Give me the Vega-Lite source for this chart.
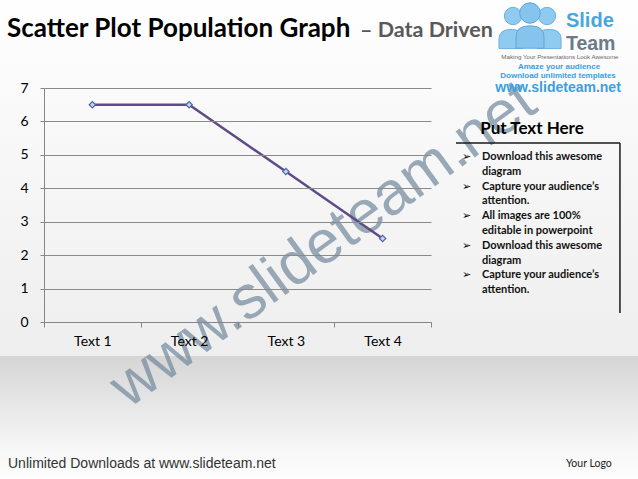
{
  "$schema": "https://vega.github.io/schema/vega-lite/v6.json",
  "autosize": {"type": "none"},
  "padding": {"left": 44, "top": 88, "right": 207, "bottom": 157},
  "width": 387,
  "height": 234,
  "background": "#ffffff",
  "config": {"view": {"stroke": null}},
  "resolve": {"scale": {"x": "independent", "y": "independent"}},
  "layer": [
    {
      "data": {"values": [{"part": "slide"}]},
      "mark": {"type": "rect", "fill": {"gradient": "linear", "x1": 0, "y1": 0, "x2": 0, "y2": 1, "stops": [{"offset": 0, "color": "#ffffff"}, {"offset": 1, "color": "#eeeeee"}]}},
      "encoding": {
        "x": {"datum": -0.6, "type": "quantitative", "scale": {"domain": [0, 4], "nice": false, "zero": false}, "axis": null},
        "x2": {"datum": 6.4},
        "y": {"datum": 9.9, "type": "quantitative", "scale": {"domain": [0, 7], "nice": false, "zero": false}, "axis": null},
        "y2": {"datum": -1.017}
      }
    },
    {
      "data": {"values": [{"part": "footer"}]},
      "mark": {"type": "rect", "fill": {"gradient": "linear", "x1": 0, "y1": 0, "x2": 0, "y2": 1, "stops": [{"offset": 0, "color": "#d5d5d5"}, {"offset": 0.7, "color": "#f6f6f6"}, {"offset": 1, "color": "#ffffff"}]}},
      "encoding": {
        "x": {"datum": -0.6, "type": "quantitative", "scale": {"domain": [0, 4], "nice": false, "zero": false}, "axis": null},
        "x2": {"datum": 6.4},
        "y": {"datum": -1.017, "type": "quantitative", "scale": {"domain": [0, 7], "nice": false, "zero": false}, "axis": null},
        "y2": {"datum": -4.9}
      }
    },
    {
      "data": {"values": [{"t": "www.slideteam.net"}]},
      "mark": {"type": "text", "align": "center", "baseline": "alphabetic", "font": "Liberation Sans", "fontSize": 61, "angle": -36, "fill": "#71889d", "opacity": 0.7},
      "encoding": {
        "x": {"datum": 3.0, "type": "quantitative", "scale": {"domain": [0, 4], "nice": false, "zero": false}, "axis": null},
        "y": {"datum": 1.87, "type": "quantitative", "scale": {"domain": [0, 7], "nice": false, "zero": false}, "axis": null},
        "text": {"field": "t"}
      }
    },
    {
      "data": {"values": [
        {"category": "Text 1", "value": 6.5},
        {"category": "Text 2", "value": 6.5},
        {"category": "Text 3", "value": 4.5},
        {"category": "Text 4", "value": 2.5}
      ]},
      "encoding": {
        "x": {"field": "category", "type": "nominal", "bandPosition": 0.5, "scale": {"type": "band", "paddingInner": 0, "paddingOuter": 0},
          "axis": {"title": null, "labelAngle": 0, "labelFont": "Lato", "labelFontSize": 14, "labelColor": "#000000", "labelPadding": 7, "tickBand": "extent", "tickSize": 5, "tickColor": "#868686", "domainColor": "#868686", "grid": false, "zindex": 1}},
        "y": {"field": "value", "type": "quantitative", "scale": {"domain": [0, 7], "nice": false, "zero": true},
          "axis": {"title": null, "values": [0, 1, 2, 3, 4, 5, 6, 7], "labelFont": "Lato", "labelFontSize": 14, "labelColor": "#000000", "labelPadding": 12, "tickSize": 4, "tickColor": "#868686", "domainColor": "#868686", "grid": true, "gridColor": "#8a8a8a", "zindex": 1}}
      },
      "layer": [
        {"mark": {"type": "line", "color": "#5e4b85", "strokeWidth": 2.5}},
        {"mark": {"type": "point", "shape": "diamond", "filled": true, "fill": "#c9d3ec", "stroke": "#4a68a8", "strokeWidth": 1.2, "size": 40, "opacity": 1}}
      ]
    },
    {
      "data": {"values": [{"t": "Put Text Here"}]},
      "mark": {"type": "text", "align": "center", "baseline": "alphabetic", "font": "Lato", "fontWeight": "bold", "fontSize": 17, "fill": "#000000"},
      "encoding": {
        "x": {"datum": 5.044, "type": "quantitative", "scale": {"domain": [0, 4], "nice": false, "zero": false}, "axis": null},
        "y": {"datum": 5.624, "type": "quantitative", "scale": {"domain": [0, 7], "nice": false, "zero": false}, "axis": null},
        "text": {"field": "t"}
      }
    },
    {
      "data": {"values": [{"part": "hline"}]},
      "mark": {"type": "rule", "color": "#1a1a1a", "strokeWidth": 1.5},
      "encoding": {
        "x": {"datum": 4.258, "type": "quantitative", "scale": {"domain": [0, 4], "nice": false, "zero": false}, "axis": null},
        "x2": {"datum": 5.953},
        "y": {"datum": 5.354, "type": "quantitative", "scale": {"domain": [0, 7], "nice": false, "zero": false}, "axis": null}
      }
    },
    {
      "data": {"values": [{"part": "vline"}]},
      "mark": {"type": "rule", "color": "#1a1a1a", "strokeWidth": 1.5},
      "encoding": {
        "x": {"datum": 5.953, "type": "quantitative", "scale": {"domain": [0, 4], "nice": false, "zero": false}, "axis": null},
        "y": {"datum": 5.354, "type": "quantitative", "scale": {"domain": [0, 7], "nice": false, "zero": false}, "axis": null},
        "y2": {"datum": 0.269}
      }
    },
    {
      "data": {"values": [{"t": "➢"}]},
      "mark": {"type": "text", "align": "left", "baseline": "alphabetic", "font": "DejaVu Sans", "fontSize": 11, "fill": "#000000"},
      "encoding": {
        "x": {"datum": 4.321, "type": "quantitative", "scale": {"domain": [0, 4], "nice": false, "zero": false}, "axis": null},
        "y": {"datum": 4.846, "type": "quantitative", "scale": {"domain": [0, 7], "nice": false, "zero": false}, "axis": null},
        "text": {"field": "t"}
      }
    },
    {
      "data": {"values": [{"t": "➢"}]},
      "mark": {"type": "text", "align": "left", "baseline": "alphabetic", "font": "DejaVu Sans", "fontSize": 11, "fill": "#000000"},
      "encoding": {
        "x": {"datum": 4.321, "type": "quantitative", "scale": {"domain": [0, 4], "nice": false, "zero": false}, "axis": null},
        "y": {"datum": 3.961, "type": "quantitative", "scale": {"domain": [0, 7], "nice": false, "zero": false}, "axis": null},
        "text": {"field": "t"}
      }
    },
    {
      "data": {"values": [{"t": "➢"}]},
      "mark": {"type": "text", "align": "left", "baseline": "alphabetic", "font": "DejaVu Sans", "fontSize": 11, "fill": "#000000"},
      "encoding": {
        "x": {"datum": 4.321, "type": "quantitative", "scale": {"domain": [0, 4], "nice": false, "zero": false}, "axis": null},
        "y": {"datum": 3.075, "type": "quantitative", "scale": {"domain": [0, 7], "nice": false, "zero": false}, "axis": null},
        "text": {"field": "t"}
      }
    },
    {
      "data": {"values": [{"t": "➢"}]},
      "mark": {"type": "text", "align": "left", "baseline": "alphabetic", "font": "DejaVu Sans", "fontSize": 11, "fill": "#000000"},
      "encoding": {
        "x": {"datum": 4.321, "type": "quantitative", "scale": {"domain": [0, 4], "nice": false, "zero": false}, "axis": null},
        "y": {"datum": 2.190, "type": "quantitative", "scale": {"domain": [0, 7], "nice": false, "zero": false}, "axis": null},
        "text": {"field": "t"}
      }
    },
    {
      "data": {"values": [{"t": "➢"}]},
      "mark": {"type": "text", "align": "left", "baseline": "alphabetic", "font": "DejaVu Sans", "fontSize": 11, "fill": "#000000"},
      "encoding": {
        "x": {"datum": 4.321, "type": "quantitative", "scale": {"domain": [0, 4], "nice": false, "zero": false}, "axis": null},
        "y": {"datum": 1.304, "type": "quantitative", "scale": {"domain": [0, 7], "nice": false, "zero": false}, "axis": null},
        "text": {"field": "t"}
      }
    },
    {
      "data": {"values": [{"t": "Download this awesome\ndiagram\nCapture your audience’s\nattention.\nAll images are 100%\neditable in powerpoint\nDownload this awesome\ndiagram\nCapture your audience’s\nattention."}]},
      "mark": {"type": "text", "align": "left", "baseline": "alphabetic", "font": "Lato", "fontWeight": "bold", "fontSize": 11, "lineHeight": 14.8, "lineBreak": "\n", "fill": "#111111"},
      "encoding": {
        "x": {"datum": 4.527, "type": "quantitative", "scale": {"domain": [0, 4], "nice": false, "zero": false}, "axis": null},
        "y": {"datum": 4.846, "type": "quantitative", "scale": {"domain": [0, 7], "nice": false, "zero": false}, "axis": null},
        "text": {"field": "t"}
      }
    },
    {
      "data": {"values": [{"part": "left body"}]},
      "mark": {"type": "point", "shape": "M-1,0.8L-1,0Q-1,-0.8,0,-0.8Q1,-0.8,1,0L1,0.8Z", "filled": true, "fill": "#8fcaf0", "stroke": "#6cb0e2", "strokeWidth": 1, "size": 576, "opacity": 1},
      "encoding": {
        "x": {"datum": 4.827, "type": "quantitative", "scale": {"domain": [0, 4], "nice": false, "zero": false}, "axis": null},
        "y": {"datum": 8.466, "type": "quantitative", "scale": {"domain": [0, 7], "nice": false, "zero": false}, "axis": null}
      }
    },
    {
      "data": {"values": [{"part": "right body"}]},
      "mark": {"type": "point", "shape": "M-1,0.8L-1,0Q-1,-0.8,0,-0.8Q1,-0.8,1,0L1,0.8Z", "filled": true, "fill": "#8fcaf0", "stroke": "#6cb0e2", "strokeWidth": 1, "size": 576, "opacity": 1},
      "encoding": {
        "x": {"datum": 5.220, "type": "quantitative", "scale": {"domain": [0, 4], "nice": false, "zero": false}, "axis": null},
        "y": {"datum": 8.466, "type": "quantitative", "scale": {"domain": [0, 7], "nice": false, "zero": false}, "axis": null}
      }
    },
    {
      "data": {"values": [{"part": "left head"}]},
      "mark": {"type": "point", "shape": "circle", "filled": true, "fill": "#8fcaf0", "stroke": "#6cb0e2", "strokeWidth": 1, "size": 300, "opacity": 1},
      "encoding": {
        "x": {"datum": 4.848, "type": "quantitative", "scale": {"domain": [0, 4], "nice": false, "zero": false}, "axis": null},
        "y": {"datum": 9.154, "type": "quantitative", "scale": {"domain": [0, 7], "nice": false, "zero": false}, "axis": null}
      }
    },
    {
      "data": {"values": [{"part": "right head"}]},
      "mark": {"type": "point", "shape": "circle", "filled": true, "fill": "#8fcaf0", "stroke": "#6cb0e2", "strokeWidth": 1, "size": 300, "opacity": 1},
      "encoding": {
        "x": {"datum": 5.199, "type": "quantitative", "scale": {"domain": [0, 4], "nice": false, "zero": false}, "axis": null},
        "y": {"datum": 9.154, "type": "quantitative", "scale": {"domain": [0, 7], "nice": false, "zero": false}, "axis": null}
      }
    },
    {
      "data": {"values": [{"part": "middle body"}]},
      "mark": {"type": "point", "shape": "M-1,0.8L-1,0Q-1,-0.8,0,-0.8Q1,-0.8,1,0L1,0.8Z", "filled": true, "fill": "#86c4ee", "stroke": "#5ea6dc", "strokeWidth": 1, "size": 784, "opacity": 1},
      "encoding": {
        "x": {"datum": 5.023, "type": "quantitative", "scale": {"domain": [0, 4], "nice": false, "zero": false}, "axis": null},
        "y": {"datum": 8.526, "type": "quantitative", "scale": {"domain": [0, 7], "nice": false, "zero": false}, "axis": null}
      }
    },
    {
      "data": {"values": [{"part": "middle head"}]},
      "mark": {"type": "point", "shape": "circle", "filled": true, "fill": "#86c4ee", "stroke": "#5ea6dc", "strokeWidth": 1, "size": 420, "opacity": 1},
      "encoding": {
        "x": {"datum": 5.023, "type": "quantitative", "scale": {"domain": [0, 4], "nice": false, "zero": false}, "axis": null},
        "y": {"datum": 9.244, "type": "quantitative", "scale": {"domain": [0, 7], "nice": false, "zero": false}, "axis": null}
      }
    },
    {
      "data": {"values": [{"t": "Slide"}]},
      "mark": {"type": "text", "align": "left", "baseline": "alphabetic", "font": "Liberation Sans", "fontWeight": "bold", "fontSize": 20, "fill": "#47a6df"},
      "encoding": {
        "x": {"datum": 5.395, "type": "quantitative", "scale": {"domain": [0, 4], "nice": false, "zero": false}, "axis": null},
        "y": {"datum": 8.825, "type": "quantitative", "scale": {"domain": [0, 7], "nice": false, "zero": false}, "axis": null},
        "text": {"field": "t"}
      }
    },
    {
      "data": {"values": [{"t": "Team"}]},
      "mark": {"type": "text", "align": "left", "baseline": "alphabetic", "font": "Liberation Sans", "fontWeight": "bold", "fontSize": 19.5, "fill": "#6b7b88"},
      "encoding": {
        "x": {"datum": 5.395, "type": "quantitative", "scale": {"domain": [0, 4], "nice": false, "zero": false}, "axis": null},
        "y": {"datum": 8.13, "type": "quantitative", "scale": {"domain": [0, 7], "nice": false, "zero": false}, "axis": null},
        "text": {"field": "t"}
      }
    },
    {
      "data": {"values": [{"t": "Making Your Presentations Look Awesome"}]},
      "mark": {"type": "text", "align": "center", "baseline": "alphabetic", "font": "Liberation Sans", "fontSize": 6.2, "fill": "#6a6a6a"},
      "encoding": {
        "x": {"datum": 5.333, "type": "quantitative", "scale": {"domain": [0, 4], "nice": false, "zero": false}, "axis": null},
        "y": {"datum": 7.87, "type": "quantitative", "scale": {"domain": [0, 7], "nice": false, "zero": false}, "axis": null},
        "text": {"field": "t"}
      }
    },
    {
      "data": {"values": [{"t": "Amaze your audience"}]},
      "mark": {"type": "text", "align": "center", "baseline": "alphabetic", "font": "Liberation Sans", "fontWeight": "bold", "fontSize": 8, "fill": "#3aa0e0"},
      "encoding": {
        "x": {"datum": 5.323, "type": "quantitative", "scale": {"domain": [0, 4], "nice": false, "zero": false}, "axis": null},
        "y": {"datum": 7.568, "type": "quantitative", "scale": {"domain": [0, 7], "nice": false, "zero": false}, "axis": null},
        "text": {"field": "t"}
      }
    },
    {
      "data": {"values": [{"t": "Download unlimited templates"}]},
      "mark": {"type": "text", "align": "center", "baseline": "alphabetic", "font": "Liberation Sans", "fontWeight": "bold", "fontSize": 8, "fill": "#3aa0e0"},
      "encoding": {
        "x": {"datum": 5.313, "type": "quantitative", "scale": {"domain": [0, 4], "nice": false, "zero": false}, "axis": null},
        "y": {"datum": 7.299, "type": "quantitative", "scale": {"domain": [0, 7], "nice": false, "zero": false}, "axis": null},
        "text": {"field": "t"}
      }
    },
    {
      "data": {"values": [{"t": "www.slideteam.net"}]},
      "mark": {"type": "text", "align": "center", "baseline": "alphabetic", "font": "Liberation Sans", "fontWeight": "bold", "fontSize": 14, "fill": "#3aa0e0"},
      "encoding": {
        "x": {"datum": 5.313, "type": "quantitative", "scale": {"domain": [0, 4], "nice": false, "zero": false}, "axis": null},
        "y": {"datum": 6.88, "type": "quantitative", "scale": {"domain": [0, 7], "nice": false, "zero": false}, "axis": null},
        "text": {"field": "t"}
      }
    },
    {
      "data": {"values": [{"t": "Scatter Plot Population Graph"}]},
      "mark": {"type": "text", "align": "left", "baseline": "alphabetic", "font": "Lato", "fontWeight": "bold", "fontSize": 26, "fill": "#000000"},
      "encoding": {
        "x": {"datum": -0.3824, "type": "quantitative", "scale": {"domain": [0, 4], "nice": false, "zero": false}, "axis": null},
        "y": {"datum": 8.52, "type": "quantitative", "scale": {"domain": [0, 7], "nice": false, "zero": false}, "axis": null},
        "text": {"field": "t"}
      }
    },
    {
      "data": {"values": [{"t": "– Data Driven"}]},
      "mark": {"type": "text", "align": "left", "baseline": "alphabetic", "font": "Lato", "fontWeight": "bold", "fontSize": 21.5, "fill": "#595959"},
      "encoding": {
        "x": {"datum": 3.266, "type": "quantitative", "scale": {"domain": [0, 4], "nice": false, "zero": false}, "axis": null},
        "y": {"datum": 8.52, "type": "quantitative", "scale": {"domain": [0, 7], "nice": false, "zero": false}, "axis": null},
        "text": {"field": "t"}
      }
    },
    {
      "data": {"values": [{"t": "Unlimited Downloads at www.slideteam.net"}]},
      "mark": {"type": "text", "align": "left", "baseline": "alphabetic", "font": "Liberation Sans", "fontSize": 14, "fill": "#333333"},
      "encoding": {
        "x": {"datum": -0.372, "type": "quantitative", "scale": {"domain": [0, 4], "nice": false, "zero": false}, "axis": null},
        "y": {"datum": -4.377, "type": "quantitative", "scale": {"domain": [0, 7], "nice": false, "zero": false}, "axis": null},
        "text": {"field": "t"}
      }
    },
    {
      "data": {"values": [{"t": "Your Logo"}]},
      "mark": {"type": "text", "align": "left", "baseline": "alphabetic", "font": "Lato", "fontSize": 10.5, "fill": "#222222"},
      "encoding": {
        "x": {"datum": 5.395, "type": "quantitative", "scale": {"domain": [0, 4], "nice": false, "zero": false}, "axis": null},
        "y": {"datum": -4.329, "type": "quantitative", "scale": {"domain": [0, 7], "nice": false, "zero": false}, "axis": null},
        "text": {"field": "t"}
      }
    }
  ]
}
